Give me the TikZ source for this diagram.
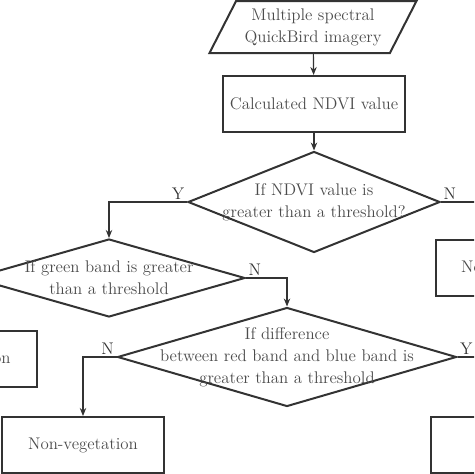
\documentclass[tikz,border=0pt]{standalone}
\usetikzlibrary{positioning,arrows.meta,shapes.geometric}
\definecolor{figline}{gray}{0.2}
\definecolor{figtext}{gray}{0.3}
\tikzset{
  fig/.style={font=\fontsize{12}{15.5}\selectfont,text=figtext},
  box/.style={draw=figline,line width=0.5mm,minimum height=14mm,minimum width=40.25mm,
              align=center,inner sep=2pt},
  io/.style={trapezium,trapezium left angle=58,trapezium right angle=122,
             trapezium stretches body=true,draw=figline,line width=0.5mm,
             minimum width=51.75mm,minimum height=13mm,inner xsep=0pt,inner ysep=2pt,
             align=center},
  decision/.style={diamond,draw=figline,line width=0.5mm,inner sep=0pt},
  txt/.style={align=center,inner sep=0pt},
  ln/.style={-{Stealth[length=2mm,width=1.6mm]},figline,line width=0.3mm},
  yn/.style={inner sep=1.5pt},
}

\begin{document}
\begin{tikzpicture}[fig,x=0.25mm,y=-0.25mm]
\def\pu{0.25mm}
\useasboundingbox (0,0) rectangle (474,474);
\clip (0,0) rectangle (474,474);

\node[io] (img) at (313,27) {Multiple spectral\\QuickBird imagery};
\node[box,minimum width=182*\pu] (ndvi) at (314,104) {Calculated NDVI value};

\node[decision,minimum width=252*\pu,minimum height=101*\pu] (q1) at (314,202) {};
\node[txt] (q1t) at (q1) {If NDVI value is\\greater than a threshold?};

\node[decision,minimum width=272*\pu,minimum height=78*\pu] (q2) at (109,278) {};
\node[txt] (q2t) at (q2) {If green band is greater\\than a threshold};

\node[decision,minimum width=339*\pu,minimum height=99*\pu] (q3) at (287,357) {};
\node[txt] (q3t) at (q3) {If difference\\between red band and blue band is\\greater than a threshold};

\node[box] (nonveg1) at (516,268) {Non-vegetation};
\node[box,minimum width=130*\pu] (veg1) at (-28,359) {Vegetation};
\node[box] (nonveg2) at (83,445) {Non-vegetation};
\node[box,minimum width=190*\pu] (veg2) at (526,445) {Vegetation};

\draw[ln] (img) -- (ndvi);
\draw[ln] (ndvi) -- (q1);
\draw[ln] (q1.west) node[yn,above left]{Y} -| (q2.north);
\draw[ln] (q1.east) node[yn,above right]{N} -| (nonveg1.north);
\draw[ln] (q2.east) node[yn,above right]{N} -| (q3.north);
\draw[ln] (q2.west) -| (veg1.north);
\draw[ln] (q3.west) node[yn,above left]{N} -| (nonveg2.north);
\draw[ln] (q3.east) node[yn,above right]{Y} -| (veg2.north);

\end{tikzpicture}
\end{document}
